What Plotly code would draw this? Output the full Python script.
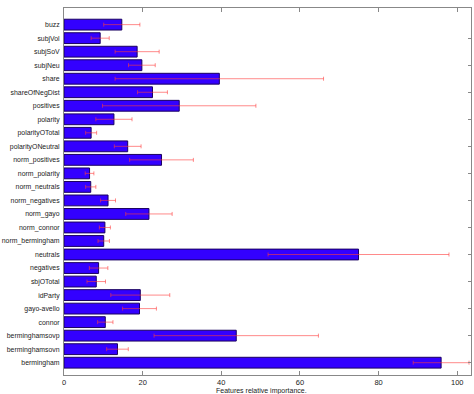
import plotly.graph_objects as go

# categories listed bottom -> top
features = ["bermingham", "berminghamsovn", "berminghamsovp", "connor", "gayo-avello",
            "idParty", "sbjOTotal", "negatives", "neutrals", "norm_bermingham",
            "norm_connor", "norm_gayo", "norm_negatives", "norm_neutrals", "norm_polarity",
            "norm_positives", "polarityONeutral", "polarityOTotal", "polarity", "positives",
            "shareOfNegDist", "share", "subjNeu", "subjSoV", "subjVol", "buzz"]
importance = [95.9, 13.6, 43.8, 10.5, 19.2,
              19.4, 8.2, 8.8, 74.9, 10.1,
              10.4, 21.6, 11.2, 6.8, 6.5,
              24.8, 16.2, 6.9, 12.7, 29.3,
              22.5, 39.5, 19.8, 18.6, 9.2, 14.7]
std_err = [7.1, 2.75, 20.9, 1.95, 4.3,
           7.5, 2.35, 2.35, 23.0, 1.45,
           1.4, 5.9, 1.9, 1.3, 1.1,
           8.1, 3.4, 1.4, 4.6, 19.5,
           3.8, 26.5, 3.4, 5.6, 2.3, 4.6]
x_ticks = [0, 20, 40, 60, 80, 100]
x_title = "Features relative importance."

font_fam = "Liberation Sans, Arial, sans-serif"
txt = "#222222"

fig = go.Figure()
fig.add_trace(go.Bar(
    y=features, x=importance, orientation="h", width=0.8,
    marker=dict(color="#3300ff", line=dict(color="#1a0060", width=1)),
    error_x=dict(type="data", array=std_err, symmetric=True,
                 color="rgba(255,60,60,0.6)", thickness=1, width=2),
    showlegend=False,
))
# invisible trace to carry right-side tick axis
fig.add_trace(go.Scatter(y=features, x=importance, yaxis="y2", mode="markers",
                         marker=dict(opacity=0), showlegend=False, hoverinfo="skip"))

fig.update_layout(
    template="none",
    width=474, height=394,
    margin=dict(l=64, r=3, t=8, b=19),
    paper_bgcolor="white", plot_bgcolor="white",
    font=dict(family=font_fam, size=7, color=txt),
    xaxis=dict(range=[0, 103.5], tickvals=x_ticks, ticks="inside", ticklen=4,
               tickcolor="#888888", showline=True, linecolor="#888888", linewidth=1,
               mirror="ticks", showgrid=False, zeroline=False, automargin=False,
               tickfont=dict(size=7.5, color=txt), ticklabelstandoff=0),
    yaxis=dict(type="category", categoryorder="array", categoryarray=features,
               range=[-0.91, 26.23], ticks="", showline=True, linecolor="#888888",
               linewidth=1, mirror=True, showgrid=False, zeroline=False,
               automargin=False, tickfont=dict(size=6.9, color=txt), ticklabelstandoff=2),
    yaxis2=dict(type="category", categoryorder="array", categoryarray=features,
                range=[-0.91, 26.23], overlaying="y", side="right",
                ticks="inside", ticklen=3, tickcolor="#888888", automargin=False,
                showticklabels=False, showline=False, showgrid=False, zeroline=False),
    annotations=[dict(text=x_title, xref="paper", yref="paper", x=0.485, y=0,
                      yshift=-10, yanchor="top", showarrow=False,
                      font=dict(size=7, color=txt))],
)

fig.write_html("out.html", config={"displayModeBar": False},
               post_script="document.body.style.margin='0';")
